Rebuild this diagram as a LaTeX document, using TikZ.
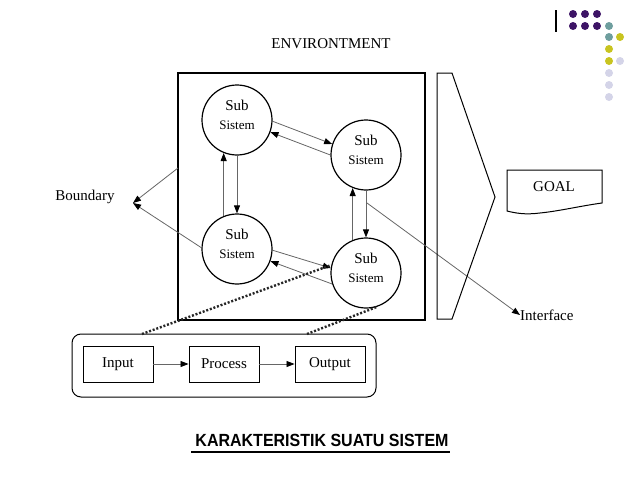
\documentclass[tikz,border=0pt]{standalone}
\usepackage{fontspec}
\setmainfont{Liberation Serif}
\newfontfamily\arialf{Liberation Sans}
\usetikzlibrary{arrows.meta}
\definecolor{dpurple}{HTML}{3D1466}
\definecolor{dteal}{HTML}{6E9E9E}
\definecolor{dyellow}{HTML}{C8C420}
\definecolor{dlav}{HTML}{D4D4E8}
\newcommand{\subtxt}{\raisebox{3.5pt}[\height][\depth]{\begin{tabular}{@{}c@{}}Sub\\[1pt]{\fontsize{13}{15}\selectfont Sistem}\end{tabular}}}
\tikzset{
  sub/.style={draw, circle, line width=1.2pt, minimum size=70pt, inner sep=0pt, font=\fontsize{15}{18}\selectfont},
  lbl/.style={font=\fontsize{15}{18}\selectfont, inner sep=0pt},
  ar/.style={draw=black!60, line width=0.8pt, -{Triangle[length=8pt,width=6pt,color=black]}},
  blk/.style={draw, line width=0.9pt, minimum width=70pt, minimum height=36pt, inner sep=0pt, font=\fontsize{15}{18}\selectfont},
  dotl/.style={draw=black!85, line width=2.4pt, dash pattern=on 2pt off 1.8pt},
  dot/.style={circle, inner sep=0pt, minimum size=8pt}
}
\begin{document}
\begin{tikzpicture}[x=1pt,y=-1pt]
\useasboundingbox (0,0) rectangle (638,479);
% title
\node[lbl] (envt) at (331,44) {ENVIRONTMENT};
% environment box
\node[draw, line width=1.3pt, minimum width=247pt, minimum height=247pt, inner sep=0pt] (env) at (301.5,196.5) {};
% subsystems
\node[sub] (tl) at (237,120) {\subtxt};
\node[sub] (tr) at (366,155) {\subtxt};
\node[sub] (bl) at (237,249) {\subtxt};
\node[sub] (br) at (366,273) {\subtxt};
% arrows between subsystems
\draw[ar] (tl.-2) -- (tr.162);
\draw[ar] (tr.180) -- (tl.-20);
\draw[ar] (tl.-90) -- (bl.90);
\draw[ar] (bl.112) -- (tl.-112);
\draw[ar] (br.112) -- (tr.-112);
\draw[ar] (tr.-90) -- (br.90);
\draw[ar] (bl.-2) -- (br.172);
\draw[ar] (br.198) -- (bl.-20);
% boundary
\node[lbl] (bound) at (85,197) {Boundary};
\coordinate (bnd) at (133,203);
\coordinate (bA) at (178,168);
\draw[ar] (bA) -- (bnd);
\draw[ar] (bl.178) -- (bnd);
% interface
\node[lbl, anchor=west] (iface) at (520,315) {Interface};
\coordinate (iA) at (367,203);
\draw[ar] (iA) -- (iface.west);
% goal arrow shape
\draw[line width=1pt, line join=miter] (437,73) -- (452,73) -- (495,197) -- (452,319) -- (437,319) -- cycle;
% goal document
\draw[line width=1pt] (507,170) -- (602,170) -- (602,203) .. controls (580,206) and (560,211) .. (540,213) .. controls (525,215) and (515,213) .. (507,211) -- cycle;
\node[lbl] (goal) at (554,187) {GOAL};
% input process output
\node[draw, line width=1pt, rounded corners=9pt, minimum width=304pt, minimum height=63pt, inner sep=0pt] (io) at (224,365.5) {};
\node[blk] (in) at (118,364) {Input};
\node[blk] (pr) at (224,364) {Process};
\node[blk] (out) at (330,364) {Output};
\draw[ar] (in) -- (pr);
\draw[ar] (pr) -- (out);
% dotted links
\coordinate (d1) at (142,334);
\coordinate (d2) at (307,334);
\draw[dotl] (d1) -- (br.167);
\draw[dotl] (d2) -- (br.-72);
% caption
\node[font=\arialf\bfseries\fontsize{16}{19}\selectfont, inner sep=0pt, anchor=base] (cap) at (322,446) {\scalebox{1}[1.1]{KARAKTERISTIK SUATU SISTEM}};
\draw[line width=1.4pt] ([xshift=-4pt,yshift=-6pt]cap.base west) -- ([xshift=1pt,yshift=-6pt]cap.base east);
% decoration
\draw[line width=1.2pt] (556,10) -- (556,32);
\foreach \x in {573,585,597} {
  \node[dot, fill=dpurple] at (\x,14) {};
  \node[dot, fill=dpurple] at (\x,26) {};
}
\node[dot, fill=dteal] at (609,26) {};
\node[dot, fill=dteal] at (609,37) {};
\node[dot, fill=dyellow] at (620,37) {};
\node[dot, fill=dyellow] at (609,49) {};
\node[dot, fill=dyellow] at (609,61) {};
\node[dot, fill=dlav] at (620,61) {};
\node[dot, fill=dlav] at (609,73) {};
\node[dot, fill=dlav] at (609,85) {};
\node[dot, fill=dlav] at (609,97) {};
\end{tikzpicture}
\end{document}
